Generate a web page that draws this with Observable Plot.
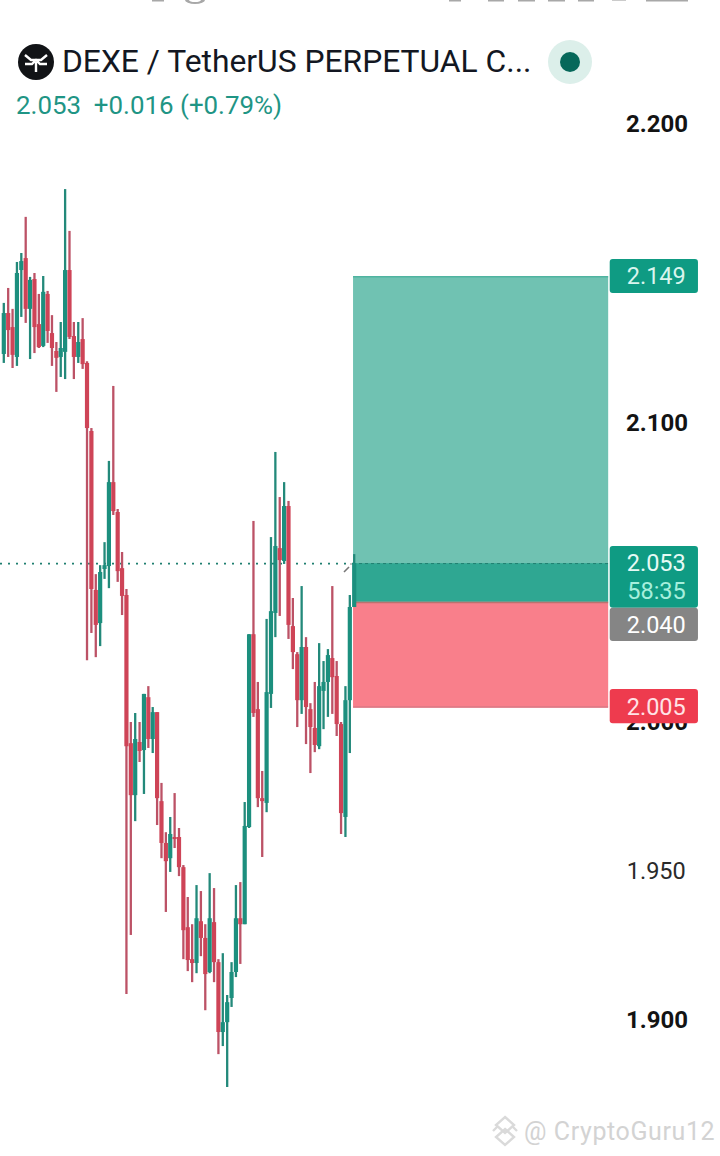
<!DOCTYPE html>
<html>
<head>
<meta charset="utf-8">
<script src="https://cdn.jsdelivr.net/npm/d3@7"></script>
<script src="https://cdn.jsdelivr.net/npm/@observablehq/plot@0.6"></script>
<style>
html,body{margin:0;padding:0;background:#fff;width:720px;height:1156px;overflow:hidden;font-family:Roboto,sans-serif}
#chart{position:absolute;left:0;top:0}
.h{position:absolute;white-space:pre;line-height:1}
</style>
</head>
<body>
<div id="chart"></div>
<svg class="h" style="left:0;top:0" width="720" height="130">
  <g fill="#A8A8A8">
    <rect x="152" y="0" width="12" height="1.5"/>
    <path d="M185 0 A10 4 0 0 0 205 0 L201 0 A6 2 0 0 1 189 0 Z"/>
    <rect x="449" y="0" width="12" height="1.5"/><rect x="488" y="0" width="16" height="1.5"/>
    <rect x="518" y="0" width="17" height="1.5"/><rect x="548" y="0" width="17" height="1.5"/>
    <rect x="578" y="0" width="16" height="1.5"/><rect x="612" y="0" width="14" height="1" opacity=".6"/>
    <rect x="646" y="0" width="42" height="1.5"/>
  </g>
  <circle cx="36" cy="62" r="18" fill="#111316"/>
  <path d="M25 55 L31 60 L41 60 L47 55 M25 64 L32 64 L36 60 L40 64 L47 64 M36 62 L36 72" stroke="#fff" stroke-width="2.4" fill="none"/>
  <circle cx="570" cy="62" r="22" fill="#DCEFEA"/>
  <circle cx="570" cy="62" r="10" fill="#06685A"/>
</svg>
<div class="h" id="title" style="left:62px;top:46px;font-size:31.8px;color:#131722">DEXE / TetherUS PERPETUAL C...</div>
<div class="h" id="sub" style="left:16px;top:93px;font-size:25.9px;color:#1F9585">2.053  +0.016 (+0.79%)</div>
<svg class="h" style="left:490px;top:1114px" width="36" height="34">
  <g fill="none" stroke="#DADADA" stroke-width="2.4">
    <path d="M15 3 L24 11 L15 19 L6 11 Z"/><path d="M15 15 L24 23 L15 31 L6 23 Z"/><path d="M3 17 L8 12 M27 17 L22 12"/>
  </g>
</svg>
<div class="h" id="wm" style="left:524px;top:1119px;font-size:25px;color:#D3D3D3;letter-spacing:.6px">@ CryptoGuru12</div>
<svg class="h" style="left:340px;top:560px" width="14" height="16"><path d="M4 12 L9 7" stroke="#777" stroke-width="1.6"/><circle cx="11" cy="4" r=".8" fill="#777"/></svg>
<script>
const open = [2.1230,2.1367,2.1320,2.1220,2.1511,2.1551,2.1381,2.1481,2.1330,2.1257,
2.1431,2.1300,2.1240,2.1220,2.1237,2.1511,2.1290,2.1220,2.1280,2.1200,
2.0972,2.0440,2.0329,2.0510,2.0520,2.0801,2.0701,2.0513,2.0423,1.9927,
1.9753,1.9931,1.9904,2.0081,1.9941,2.0031,1.9733,1.9593,1.9542,1.9613,
1.9613,1.9512,1.9311,1.9204,1.9191,1.9331,1.9275,1.9161,1.9328,1.9194,
1.8960,1.8993,1.9074,1.9161,1.9341,1.9321,1.9646,2.0292,2.0041,1.9743,
1.9727,2.0092,2.0363,2.0580,2.0537,2.0721,2.0319,2.0225,2.0071,2.0249,
2.0041,1.9978,1.9917,2.0102,2.0132,2.0212,2.0152,1.9991,1.9680,2.0071,2.0383];
const close = [2.1367,2.1310,2.1227,2.1501,2.1541,2.1381,2.1478,2.1320,2.1253,2.1438,
2.1307,2.1250,2.1217,2.1250,2.1511,2.1287,2.1220,2.1270,2.1196,2.0982,
2.0443,2.0323,2.0500,2.0523,2.0801,2.0704,2.0503,2.0420,1.9917,1.9753,
1.9941,1.9901,2.0092,1.9941,2.0031,1.9743,1.9593,1.9532,1.9623,1.9606,
1.9512,1.9301,1.9201,1.9191,1.9341,1.9275,1.9154,1.9341,1.9194,1.8960,
1.8993,1.9060,1.9161,1.9341,1.9321,1.9650,2.0292,2.0028,1.9743,1.9733,
2.0098,2.0369,2.0587,2.0540,2.0721,2.0323,2.0232,2.0071,2.0249,2.0048,
1.9981,1.9921,2.0118,2.0132,2.0222,2.0148,1.9991,1.9693,2.0071,2.0383,2.0530];
const high = [2.1401,2.1451,2.1381,2.1538,2.1568,2.1689,2.1488,2.1501,2.1431,2.1491,
2.1441,2.1360,2.1270,2.1337,2.1782,2.1642,2.1337,2.1337,2.1350,2.1206,
2.0982,2.0493,2.0523,2.0600,2.0872,2.1123,2.0711,2.0567,2.0443,1.9998,
2.0028,1.9998,2.0092,2.0118,2.0048,2.0031,1.9794,1.9629,1.9680,1.9760,
1.9643,1.9519,1.9412,1.9321,1.9452,1.9432,1.9321,1.9492,1.9442,1.9204,
1.9224,1.9084,1.9194,1.9452,1.9462,1.9730,2.0292,2.0671,2.0132,1.9834,
2.0343,2.0617,2.0902,2.0751,2.0801,2.0738,2.0413,2.0232,2.0453,2.0282,
2.0061,2.0132,2.0262,2.0202,2.0242,2.0453,2.0202,1.9998,2.0118,2.0423,2.0560];
const low = [2.1200,2.1220,2.1183,2.1190,2.1354,2.1334,2.1213,2.1233,2.1250,2.1253,
2.1267,2.1190,2.1103,2.1153,2.1146,2.1280,2.1146,2.1200,2.1180,2.0205,
2.0296,2.0215,2.0252,2.0477,2.0446,2.0691,2.0467,2.0356,1.9087,1.9285,
1.9666,1.9864,1.9757,1.9911,1.9894,1.9653,1.9542,1.9362,1.9496,1.9576,
1.9482,1.9204,1.9164,1.9127,1.9157,1.9214,1.9033,1.9157,1.9127,1.8886,
1.8913,1.8776,1.9044,1.9144,1.9188,1.9321,1.9643,2.0015,1.9713,1.9546,
1.9696,2.0045,2.0282,2.0353,2.0527,2.0276,2.0175,1.9981,2.0025,1.9924,
1.9827,1.9897,1.9907,1.9974,2.0015,2.0025,1.9951,1.9623,1.9613,1.9894,2.0383];

const boldTicks = [2.2, 2.1, 2.0, 1.9];
const plainTicks = [1.95];
const currentPrice = 2.053;
const takeProfit = 2.149;
const entryPrice = 2.040;
const stopLoss = 2.005;
const countdown = "58:35";

const GREEN = "#1C8F7E", GREEN_WICK = "#23897A", RED = "#CE4457", RED_WICK = "#BC5266";
const candles = open.map((o, i) => ({i, open: o, close: close[i], high: high[i], low: low[i]}));
const color = d => d.close >= d.open ? GREEN : RED;
const wick = d => d.close >= d.open ? GREEN_WICK : RED_WICK;

const boxX1 = 79.85, boxX2 = 138.1;
const tagX1 = 138.45, tagX2 = 158.6;
const tagTextX = 155.7;
const tags = [
  {top: 2.1548, bottom: 2.1434, fill: "#0F9B83"},
  {top: 2.0587, bottom: 2.0380, fill: "#0F9B83"},
  {top: 2.0380, bottom: 2.0269, fill: "#858585"},
  {top: 2.0108, bottom: 1.9994, fill: "#EE3B4E"}
];
const tagTexts = [
  {y: takeProfit, t: takeProfit.toFixed(3), c: "#D9F5EE"},
  {y: currentPrice, t: currentPrice.toFixed(3), c: "#E6FAF5"},
  {y: 2.0436, t: countdown, c: "#A6EFDD"},
  {y: 2.0323, t: entryPrice.toFixed(3), c: "#fff"},
  {y: stopLoss - 0.0002, t: stopLoss.toFixed(3), c: "#FFE3E6"}
];

const chart = Plot.plot({
  width: 720, height: 1156,
  marginLeft: 0, marginRight: 0, marginTop: 0, marginBottom: 0,
  x: {domain: [-0.753, 163.63], range: [0, 720], axis: null},
  y: {domain: [1.8545, 2.2415], range: [1156, 0], axis: null},
  style: {background: "#fff", fontFamily: "Roboto, sans-serif"},
  marks: [
    Plot.text(boldTicks, {x: tagTextX + 0.5, y: d => d, text: d => d.toFixed(3), textAnchor: "end", fontSize: 24, fontWeight: 700, fill: "#131313"}),
    Plot.text(plainTicks, {x: tagTextX, y: d => d, text: d => d.toFixed(3), textAnchor: "end", fontSize: 23.5, fontWeight: 400, fill: "#2A2A2A"}),
    Plot.ruleY([currentPrice], {x1: -0.753, x2: boxX1, stroke: "#1F7F70", strokeWidth: 1.8, strokeDasharray: "2,6"}),
    Plot.rect([{t: takeProfit, b: currentPrice}], {x1: boxX1, x2: boxX2, y1: "b", y2: "t", fill: "#70C2B2"}),
    Plot.rect([{t: currentPrice, b: entryPrice}], {x1: boxX1, x2: boxX2, y1: "b", y2: "t", fill: "#2FA792"}),
    Plot.rect([{t: entryPrice, b: stopLoss}], {x1: boxX1, x2: boxX2, y1: "b", y2: "t", fill: "#F97F8B"}),
    Plot.ruleY([takeProfit], {x1: boxX1, x2: boxX2, stroke: "#4FB3A0", strokeWidth: 1.5}),
    Plot.ruleY([entryPrice], {x1: boxX1, x2: boxX2, stroke: "#B9736F", strokeWidth: 1.5}),
    Plot.ruleY([stopLoss], {x1: boxX1, x2: boxX2, stroke: "#D9616F", strokeWidth: 1.5}),
    Plot.ruleY([currentPrice], {x1: boxX1, x2: boxX2, stroke: "#1F7F70", strokeWidth: 1, strokeDasharray: "3,3"}),
    Plot.ruleX(candles, {x: "i", y1: "low", y2: "high", stroke: wick, strokeWidth: 2.3}),
    Plot.ruleX(candles, {x: "i", y1: "open", y2: "close", stroke: color, strokeWidth: 4.2}),
    Plot.rect(tags, {x1: tagX1, x2: tagX2, y1: "bottom", y2: "top", fill: "fill", rx: 3}),
    Plot.text(tagTexts, {x: tagTextX, y: "y", text: "t", fill: "c", textAnchor: "end", fontSize: 23.5})
  ]
});
document.getElementById("chart").appendChild(chart);
</script>
</body>
</html>
